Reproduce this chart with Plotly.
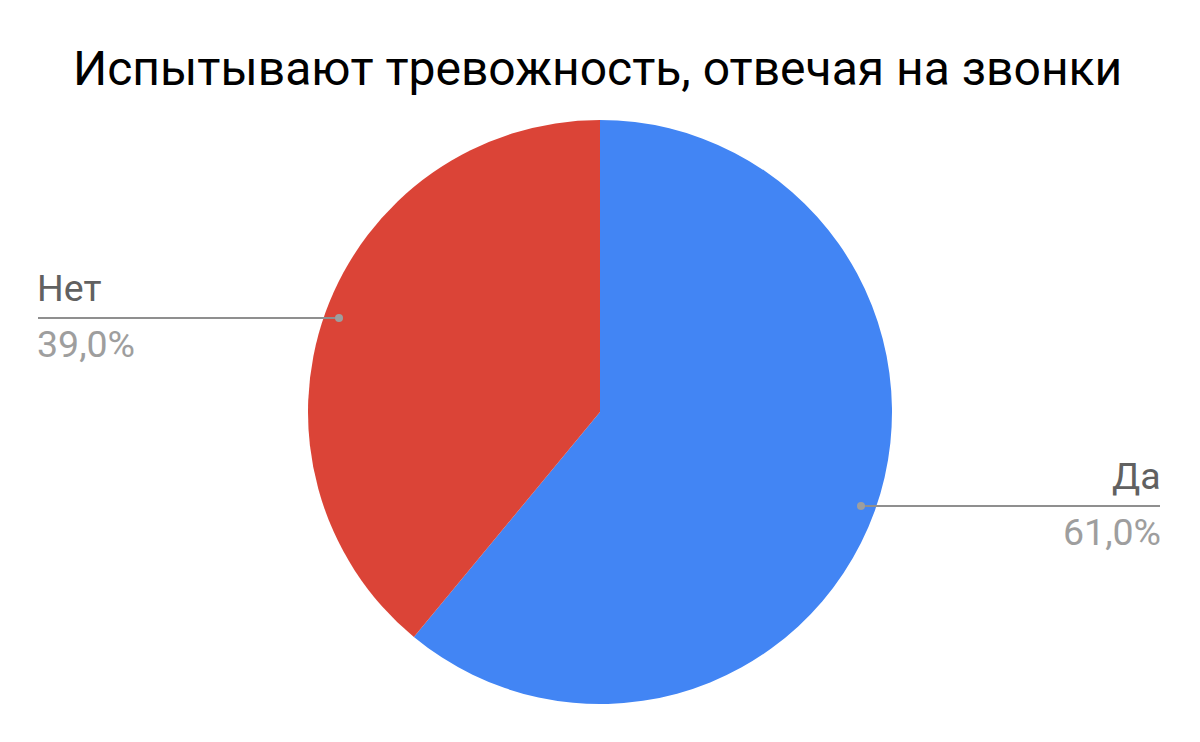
import math
import plotly.graph_objects as go

# ---- data ----
labels = ["Да", "Нет"]
values = [61.0, 39.0]
colors = ["#4285F4", "#DB4437"]
title_text = "Испытывают тревожность, отвечая на звонки"

W, H = 1200, 742
cx, cy, R = 600, 412, 292  # pie centre and radius in pixels (from top-left)

def px_x(x):
    return x / W

def px_y(y):
    return 1 - y / H

fig = go.Figure(go.Pie(
    labels=labels,
    values=values,
    marker=dict(colors=colors, line=dict(width=0)),
    sort=False,
    direction="clockwise",
    rotation=0,
    textinfo="none",
    showlegend=False,
    domain=dict(x=[px_x(cx - R), px_x(cx + R)], y=[px_y(cy + R), px_y(cy - R)]),
))

shapes = []
annotations = [dict(
    text=title_text, x=px_x(597), y=px_y(68), xref="paper", yref="paper",
    showarrow=False, xanchor="center", yanchor="middle",
    font=dict(family="Roboto", size=48, color="#000000"),
)]

total = sum(values)
cum = 0.0
for lab, v in zip(labels, values):
    mid = (cum + v / 2) / total * 2 * math.pi  # clockwise from top
    cum += v
    dx = math.sin(mid) * R * 0.95
    dy = -math.cos(mid) * R * 0.95
    px, py = cx + dx, cy + dy
    right = dx >= 0
    end_x = 1160 if right else 38
    text_x = end_x + 3 if right else end_x - 3
    shapes.append(dict(type="line", xref="paper", yref="paper",
                       x0=px_x(px), y0=px_y(py), x1=px_x(end_x), y1=px_y(py),
                       line=dict(color="#8f8f8f", width=2)))
    shapes.append(dict(type="circle", xref="paper", yref="paper",
                       x0=px_x(px - 4), x1=px_x(px + 4), y0=px_y(py + 4), y1=px_y(py - 4),
                       fillcolor="#9e9e9e", line=dict(width=0)))
    anchor = "right" if right else "left"
    pct = f"{v / total * 100:.1f}%".replace(".", ",")
    annotations.append(dict(text=lab, x=px_x(text_x), y=px_y(py - 6), xref="paper", yref="paper",
                            showarrow=False, xanchor=anchor, yanchor="bottom",
                            font=dict(family="Roboto", size=37.5, color="#616161")))
    annotations.append(dict(text=pct, x=px_x(text_x), y=px_y(py + 2), xref="paper", yref="paper",
                            showarrow=False, xanchor=anchor, yanchor="top",
                            font=dict(family="Roboto", size=37.5, color="#9e9e9e")))

fig.update_layout(
    width=W, height=H,
    margin=dict(l=0, r=0, t=0, b=0),
    paper_bgcolor="#ffffff",
    plot_bgcolor="#ffffff",
    shapes=shapes,
    annotations=annotations,
)

fig.write_html("out.html", config={"displayModeBar": False},
               post_script="document.body.style.margin='0';")
